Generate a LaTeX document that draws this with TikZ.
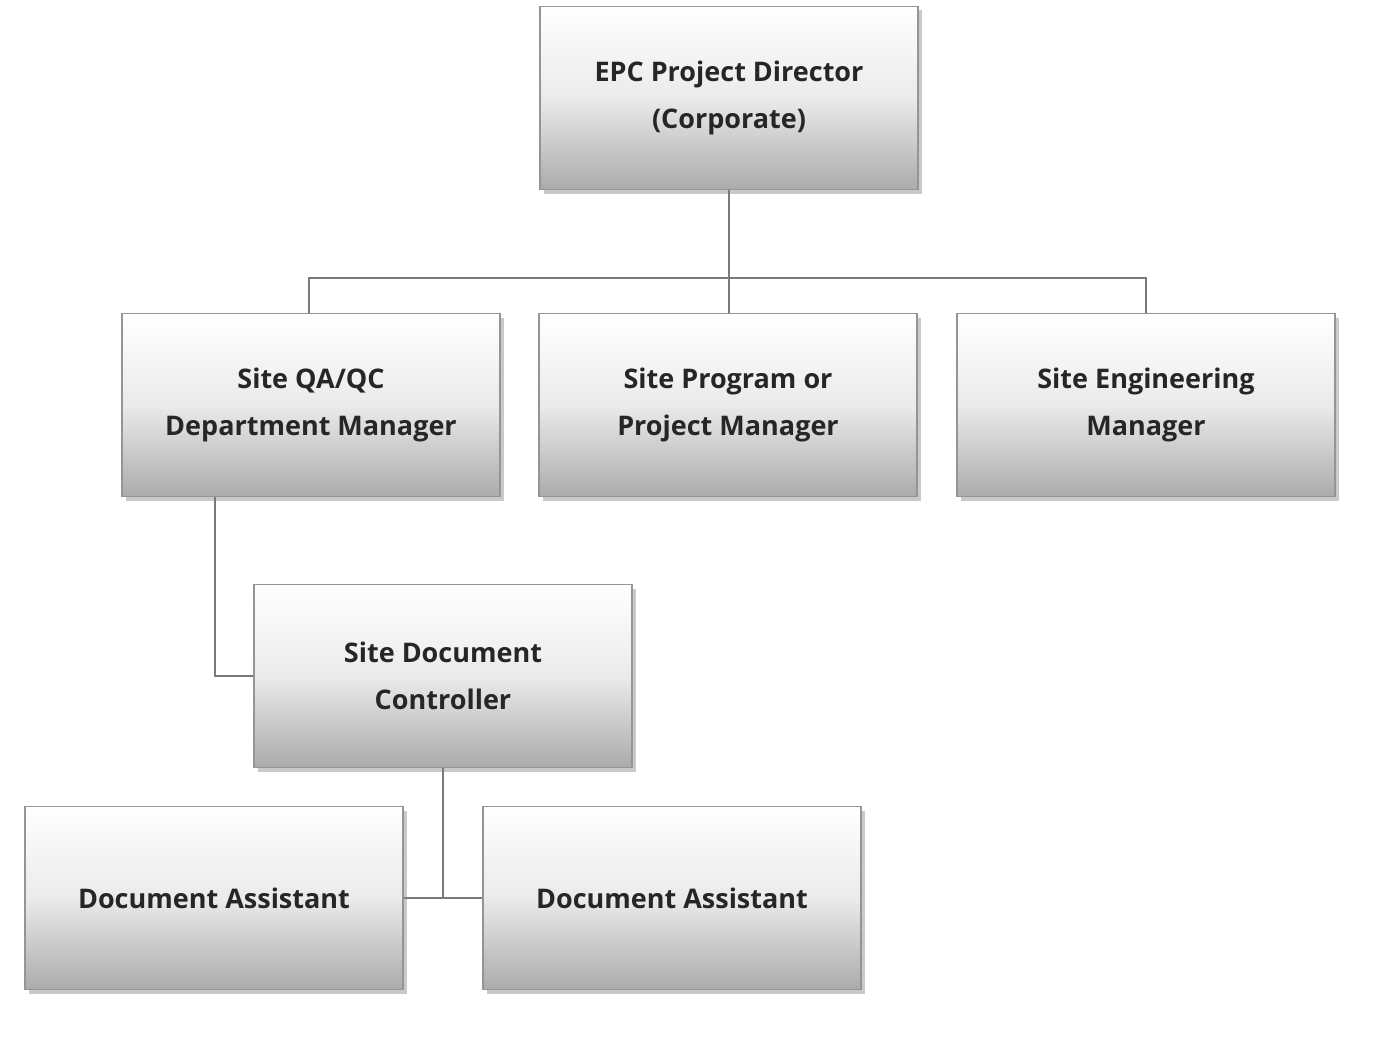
\documentclass[tikz,border=0pt]{standalone}
\usepackage{fontspec}
\setmainfont{Open Sans}
\usetikzlibrary{shadows}
\definecolor{linec}{HTML}{7A7A7A}
\tikzset{
  box/.style={draw=linec!80, line width=1.5pt, minimum width=378pt, minimum height=183pt,
    top color=white, bottom color=black!33, middle color=black!8, align=center,
    font=\fontsize{27}{47}\selectfont\bfseries, text=black!85,
    drop shadow={shadow xshift=4pt, shadow yshift=-4pt, fill=black!35, opacity=.6}},
  conn/.style={draw=linec, line width=1.8pt}
}
\begin{document}
\begin{tikzpicture}[x=1pt,y=1pt]
\useasboundingbox (0,0) rectangle (1375,-1041);
\fill[white] (0,0) rectangle (1375,-1041);
\node[box] (top) at (729,-98) {EPC Project Director\\(Corporate)};
\node[box] (qa) at (311,-405) {Site QA/QC\\Department Manager};
\node[box] (pm) at (728,-405) {Site Program or\\Project Manager};
\node[box] (eng) at (1146,-405) {Site Engineering\\Manager};
\node[box] (dc) at (443,-676) {Site Document\\Controller};
\node[box] (da1) at (214,-898) {Document Assistant};
\node[box] (da2) at (672,-898) {Document Assistant};
\coordinate (bus) at (729,-278);
\draw[conn] (top.south) -- (bus);
\draw[conn] (qa.north -| 309,0) |- (bus) -| (eng.north);
\draw[conn] (bus) -- (pm.north -| bus);
\draw[conn] (qa.south -| 215,0) |- (dc.west);
\coordinate (bus2) at (443,-897);
\draw[conn] (dc.south) -- (bus2);
\draw[conn] (da1.east) -- (da2.west);
\end{tikzpicture}
\end{document}
